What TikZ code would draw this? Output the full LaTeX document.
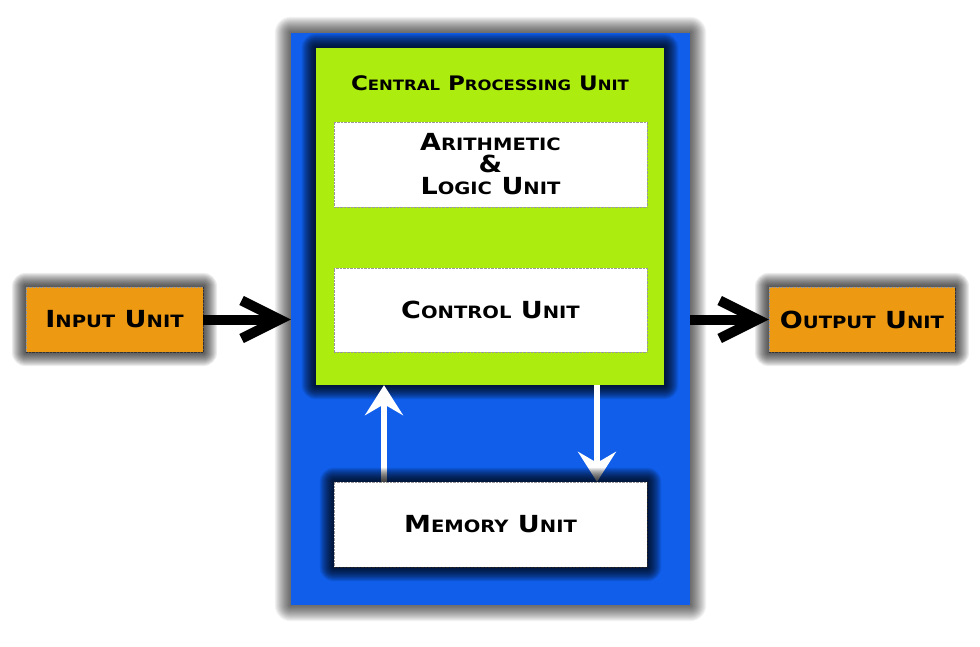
\documentclass[tikz,border=0pt]{standalone}
\usepackage{fontspec}
\newfontfamily\unitfont[FakeStretch=1.15]{DejaVu Sans}
\usetikzlibrary{arrows.meta,calc}

\definecolor{cpublue}{RGB}{16,94,234}
\definecolor{cpugreen}{RGB}{173,236,15}
\definecolor{unitorange}{RGB}{237,153,17}

% smaller capitals for the rest of a word
\def\lowsize{17bp}
\newcommand\lowcaps[1]{{\fontsize{\lowsize}{\lowsize}\selectfont #1}}

% soft dark rim round a node, drawn as rings outside it
\newcommand\glowbox[3]{%
  \foreach \r in {1,...,#3}
    \fill[black,opacity=#2,even odd rule]
      [rounded corners=\r bp] ($(#1.south west)+(-\r,\r)$) rectangle ($(#1.north east)+(\r,-\r)$)
      [sharp corners] (#1.south west) rectangle (#1.north east);}

\begin{document}
\begin{tikzpicture}[x=1bp,y=-1bp,
  unittext/.style={font=\unitfont\bfseries\fontsize{23.5bp}{22bp}\selectfont,align=center,text=black},
  unitbox/.style={unittext,draw=black!40,densely dotted,line width=0.4bp,inner sep=0pt},
  bigarrow/.style={line width=10bp,-{Straight Barb[length=38bp,width=38bp]}},
  memarrow/.style={white,line width=6bp,-{Stealth[length=30bp,width=38bp,inset=11bp]}}]

  \useasboundingbox (0,0) rectangle (980,647);

  \node[fill=cpublue,minimum width=399bp,minimum height=572bp,inner sep=0pt] (cpuframe) at (490.5,319) {};
  \glowbox{cpuframe}{0.05}{16}
  \node[fill=cpugreen,minimum width=348bp,minimum height=337bp,inner sep=0pt] (cpubox) at (490,216.5) {};
  \glowbox{cpubox}{0.085}{14}

  \node[unittext,font=\unitfont\bfseries\fontsize{20bp}{22bp}\selectfont\def\lowsize{14.3bp}] (cpulabel) at (490,83)
    {C\lowcaps{ENTRAL} P\lowcaps{ROCESSING} U\lowcaps{NIT}};

  \node[unitbox,fill=white,minimum width=313bp,minimum height=85bp] (alu) at (490.5,164.5)
    {A\lowcaps{RITHMETIC}\\ \&\\ L\lowcaps{OGIC} U\lowcaps{NIT}};
  \node[unitbox,fill=white,minimum width=313bp,minimum height=84bp] (control) at (490.5,310)
    {C\lowcaps{ONTROL} U\lowcaps{NIT}};
  \node[unitbox,fill=white,minimum width=313bp,minimum height=85bp] (memory) at (490.5,524.5)
    {M\lowcaps{EMORY} U\lowcaps{NIT}};

  \coordinate (upx) at (384,0);
  \coordinate (downx) at (597,0);
  \draw[memarrow] (memory.north -| upx) -- (cpubox.south -| upx);
  \draw[memarrow] (cpubox.south -| downx) -- (memory.north -| downx);
  \glowbox{memory}{0.085}{14}

  \node[unitbox,fill=unitorange,minimum width=177bp,minimum height=65bp] (input) at (114.5,319.5)
    {I\lowcaps{NPUT} U\lowcaps{NIT}};
  \glowbox{input}{0.07}{14}
  \node[unitbox,fill=unitorange,minimum width=186bp,minimum height=65bp] (output) at (862,319.5)
    {O\lowcaps{UTPUT} U\lowcaps{NIT}};
  \glowbox{output}{0.07}{14}

  \draw[bigarrow] (input.east) -- (input.east -| cpuframe.west);
  \draw[bigarrow] (output.west -| cpuframe.east) -- (output.west);
\end{tikzpicture}
\end{document}
